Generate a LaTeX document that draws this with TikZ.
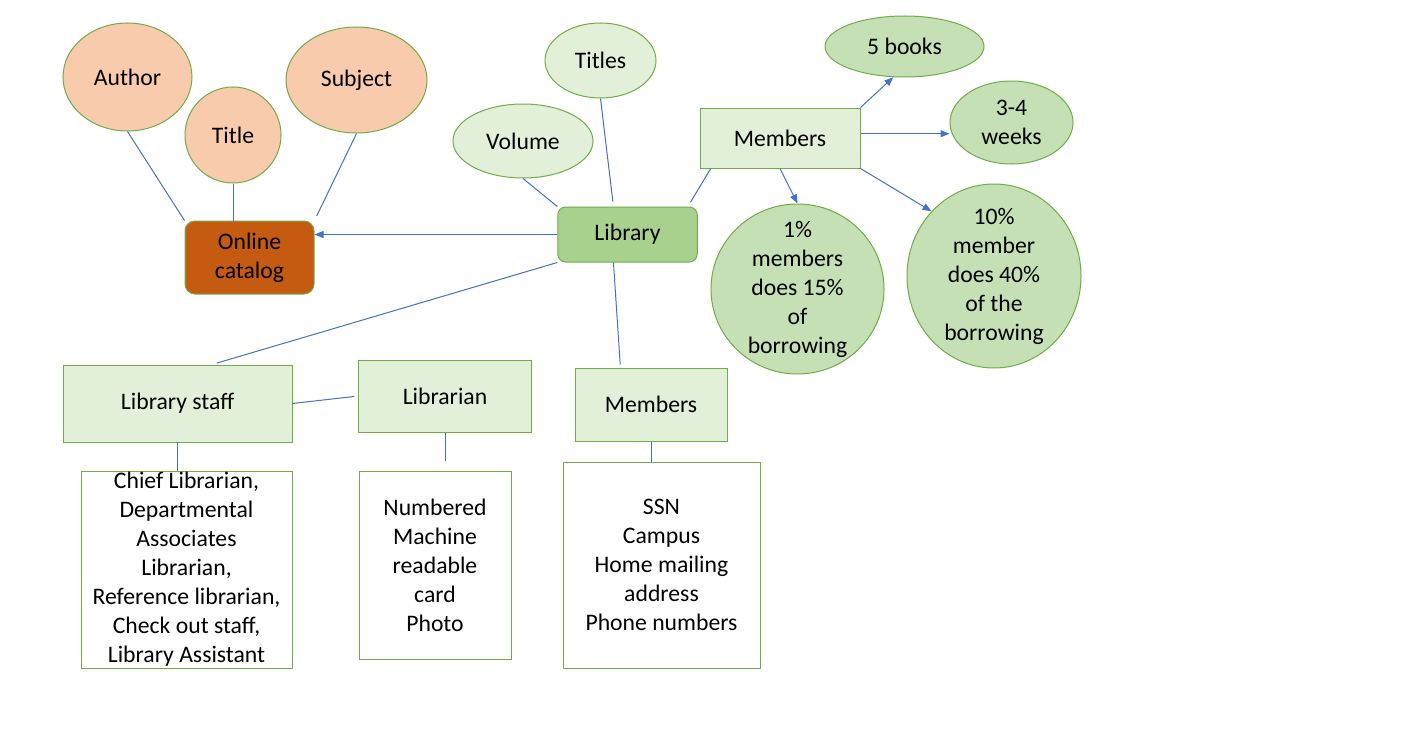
\documentclass[tikz,border=0pt]{standalone}
\usepackage{fontspec}
\setmainfont{Carlito}
\usetikzlibrary{shapes.geometric,arrows.meta,calc}
\definecolor{peach}{HTML}{F8CBAD}
\definecolor{catorange}{HTML}{C55A11}
\definecolor{midgreen}{HTML}{A9D18E}
\definecolor{palegreen}{HTML}{E2F0D9}
\definecolor{softgreen}{HTML}{C5E0B4}
\definecolor{gborder}{HTML}{70AD47}
\definecolor{lblue}{HTML}{4472C4}
\begin{document}
\begin{tikzpicture}[x=1pt,y=-1pt,
  every node/.style={font=\fontsize{23.7}{29}\selectfont, text=black, align=center},
  ell/.style={ellipse, draw=gborder, line width=1pt, inner sep=0pt},
  box/.style={rectangle, draw=gborder, line width=1pt, inner sep=0pt},
  conn/.style={draw=lblue, line width=1pt},
  arr/.style={conn, -{Triangle[length=9pt,width=7pt]}}]
\path[use as bounding box, fill=white] (0,0) rectangle (1413,752);
% online catalog group
\node[ell, fill=peach, minimum width=129pt, minimum height=108pt] (author) at (127.5,77) {Author};
\node[ell, fill=peach, minimum width=96pt, minimum height=96pt] (title) at (233,135) {Title};
\node[ell, fill=peach, minimum width=141pt, minimum height=106pt] (subject) at (356.5,80) {Subject};
\node[box, rounded corners=10pt, fill=catorange, minimum width=129pt, minimum height=73pt] (cat) at (249.5,257.5) {Online\\catalog};
% library group
\node[ell, fill=palegreen, minimum width=111pt, minimum height=75pt] (titles) at (600.5,60.5) {Titles};
\node[ell, fill=palegreen, minimum width=140pt, minimum height=74pt] (volume) at (523,141) {Volume};
\node[box, fill=palegreen, minimum width=160pt, minimum height=60pt] (mt) at (780,138) {Members};
\node[box, rounded corners=8pt, fill=midgreen, minimum width=139.5pt, minimum height=55pt] (lib) at (627.5,234.5) {Library};
\node[ell, fill=softgreen, minimum width=159pt, minimum height=61pt] (b5) at (904.5,46.5) {5 books};
\node[ell, fill=softgreen, minimum width=123pt, minimum height=83pt] (weeks) at (1011.5,122.5) {3-4\\weeks};
\node[ell, fill=softgreen, minimum width=173pt, minimum height=170pt,
  label={center:{1\%\\members\\does 15\%\\of\\borrowing}}] (one) at (797.5,289) {};
\node[ell, fill=softgreen, minimum width=174pt, minimum height=184pt,
  label={center:{10\%\\member\\does 40\%\\of the\\borrowing}}] (ten) at (994,276) {};
% bottom group
\node[box, fill=palegreen, minimum width=229pt, minimum height=77pt] (staff) at (177.5,403.5) {Library staff};
\node[box, fill=palegreen, minimum width=172.5pt, minimum height=72pt] (librarian) at (445,396) {Librarian};
\node[box, fill=palegreen, minimum width=152pt, minimum height=73pt] (mb) at (651,404.5) {Members};
\node[box, fill=white, minimum width=211pt, minimum height=197pt] (sd) at (186.5,569.5) {Chief Librarian,\\Departmental\\Associates\\Librarian,\\Reference librarian,\\Check out staff,\\Library Assistant};
\node[box, fill=white, minimum width=152pt, minimum height=188pt] (ld) at (435,565) {Numbered\\Machine\\readable\\card\\Photo};
\node[box, fill=white, minimum width=197pt, minimum height=206pt] (md) at (661.5,565) {SSN\\Campus\\Home mailing\\address\\Phone numbers};
% helper coordinates
\coordinate (mte) at ($(mt.north east)!0.43!(mt.south east)$);
% connectors
\draw[conn] (author.south) -- (cat.north west);
\draw[conn] (title.south) -- (title.south |- cat.north);
\draw[conn, shorten >=5pt] (subject.south) -- (cat.north east);
\draw[arr] (lib.west) -- (lib.west -| cat.east);
\draw[conn] (volume.south) -- (lib.north west);
\draw[conn, shorten >=5pt] (titles.south) -- ($(lib.north west)!0.4!(lib.north east)$);
\draw[conn, shorten <=5pt] ($(lib.north west)!0.93!(lib.north east)$) -- ($(mt.south west)!0.07!(mt.south east)$);
\draw[arr] (mt.north east) -- (b5.250);
\draw[arr] (mte) -- (mte -| weeks.west);
\draw[arr] (mt.south) -- (one.north);
\draw[arr] (mt.south east) -- (ten.134);
\draw[conn, shorten >=5pt] (lib.south west) -- ($(staff.north west)!0.65!(staff.north east)$);
\draw[conn, shorten >=3pt] ($(lib.south west)!0.4!(lib.south east)$) -- ($(mb.north west)!0.3!(mb.north east)$);
\draw[conn, shorten >=4pt] (staff.east) -- (librarian.west);
\draw[conn] (staff.south) -- (staff.south |- sd.north);
\draw[conn] (librarian.south) -- ($(librarian.south |- ld.north)+(0,-10)$);
\draw[conn] (mb.south) -- (mb.south |- md.north);
\end{tikzpicture}
\end{document}
